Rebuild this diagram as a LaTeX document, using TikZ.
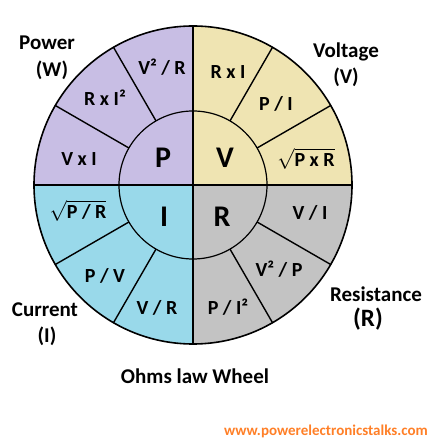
\documentclass[tikz,border=0pt]{standalone}
\usepackage{fontspec}
\usetikzlibrary{calc}
\setmainfont{Carlito}
\definecolor{pcol}{RGB}{200,190,228}
\definecolor{vcol}{RGB}{239,228,178}
\definecolor{icol}{RGB}{153,217,234}
\definecolor{rcol}{RGB}{195,195,195}
\definecolor{urlcol}{RGB}{255,127,39}
\tikzset{
  seg/.style={font=\fontsize{20}{24}\selectfont\bfseries, inner sep=0pt},
  big/.style={font=\fontsize{30}{34}\selectfont\bfseries, inner sep=0pt},
  lab/.style={font=\fontsize{21}{25}\selectfont\bfseries, inner sep=0pt},
  divider/.style={line width=1.4pt},
  axis/.style={line width=1.8pt},
}
\begin{document}
\begin{tikzpicture}[x=1pt,y=1pt]
\useasboundingbox (0,0) rectangle (432,440);
\coordinate (C) at (193,255);
\def\RR{159}
\def\rr{74}
% quadrants
\fill[pcol] (C) -- ++(90:\RR) arc[start angle=90,end angle=180,radius=\RR] -- cycle;
\fill[vcol] (C) -- ++(0:\RR) arc[start angle=0,end angle=90,radius=\RR] -- cycle;
\fill[icol] (C) -- ++(180:\RR) arc[start angle=180,end angle=270,radius=\RR] -- cycle;
\fill[rcol] (C) -- ++(270:\RR) arc[start angle=270,end angle=360,radius=\RR] -- cycle;
% dividers
\foreach \a in {30,60,120,150,210,240,300,330}{
  \draw[divider] ($(C)+(\a:\rr)$) -- ($(C)+(\a:\RR)$);
}
\draw[line width=1.2pt] (C) circle[radius=\rr];
\draw[line width=1.6pt] (C) circle[radius=\RR];
\coordinate (L) at ($(C)+(180:\RR)$);
\coordinate (Rt) at ($(C)+(0:\RR)$);
\coordinate (T) at ($(C)+(90:\RR)$);
\coordinate (B) at ($(C)+(270:\RR)$);
\draw[axis] (L) -- (Rt);
\draw[axis] (T) -- (B);
% big letters
\node[big] (P) at (163,282) {P};
\node[big] (V) at (225,282) {V};
\node[big] (I) at (164,223) {I};
\node[big] (R) at (222,223) {R};
% power
\node[seg] (p1) at (162,373) {V² / R};
\node[seg] (p2) at (105,342) {R x I²};
\node[seg] (p3) at (79,281) {V x I};
% voltage
\node[seg] (v1) at (228,368) {R x I};
\node[seg] (v2) at (276,336) {P / I};
\node[seg] (v3) at (306,281) {$\sqrt{\mbox{\bfseries P x R}}$};
% current
\node[seg] (i1) at (78,229) {$\sqrt{\mbox{\bfseries P / R}}$};
\node[seg] (i2) at (105,164) {P / V};
\node[seg] (i3) at (157,132) {V / R};
% resistance
\node[seg] (r1) at (310,227) {V / I};
\node[seg] (r2) at (279,171) {V² / P};
\node[seg] (r3) at (228,133) {P / I²};
% labels
\node[lab] (pw) at (47,397) {Power};
\node[lab] (pw2) at (52,370) {(W)};
\node[lab] (vt) at (346,388) {Voltage};
\node[lab] (vt2) at (346,363) {(V)};
\node[lab] (cu) at (45,130) {Current};
\node[lab] (cu2) at (47,104) {(I)};
\node[lab] (rs) at (376,146) {Resistance};
\node[lab, font=\fontsize{25}{28}\selectfont\bfseries] (rs2) at (368,121) {(R)};
\node[lab] (title) at (195,64) {Ohms law Wheel};
\node[font=\fontsize{15}{18}\selectfont\bfseries, text=urlcol, inner sep=0pt] (url) at (326,9) {www.powerelectronicstalks.com};
\end{tikzpicture}
\end{document}
